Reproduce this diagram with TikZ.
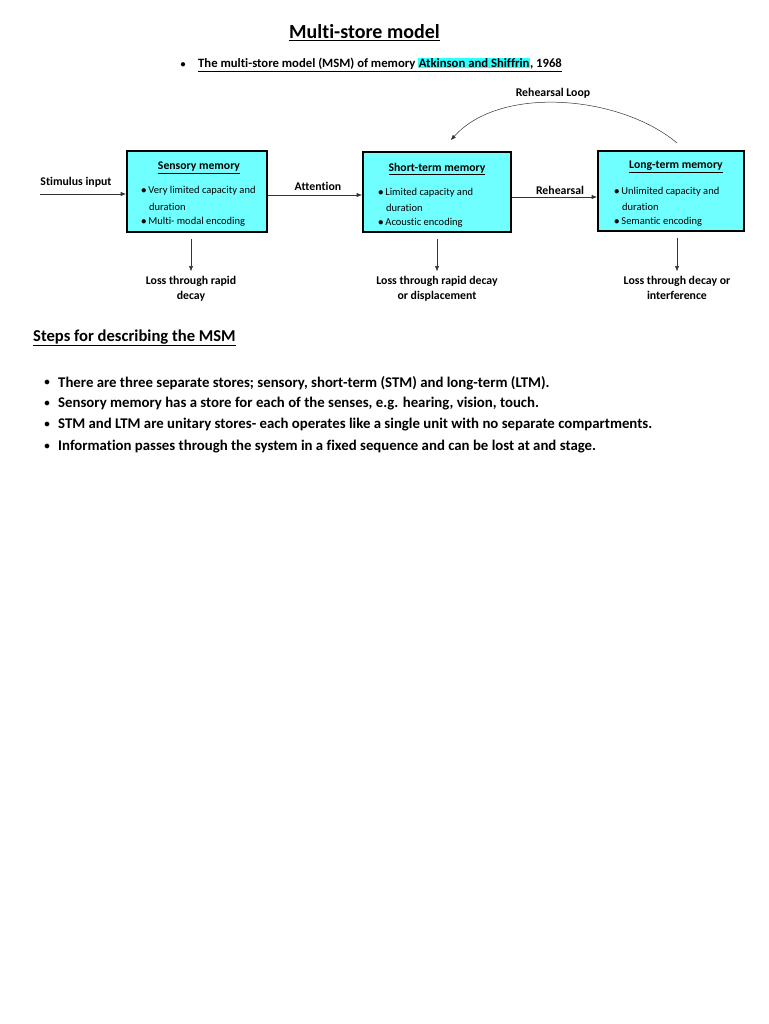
\documentclass[tikz,border=0pt]{standalone}
\usepackage{fontspec}
\setmainfont{Carlito}[Ligatures=NoCommon]
\usetikzlibrary{arrows.meta}
\definecolor{boxfill}{HTML}{70FFFF}
\definecolor{hl}{HTML}{2EFFFF}
\begin{document}
\begin{tikzpicture}[x=1pt,y=-1pt,
  store/.style={draw=black, line width=2.6pt, fill=boxfill, inner sep=0pt},
  arr/.style={-{Triangle[length=5pt,width=3.8pt]}, line width=0.6pt, draw=black!80},
  lbl/.style={font=\fontsize{11.8}{15}\selectfont\bfseries, inner sep=0pt, align=center},
  btxt/.style={font=\fontsize{10.5}{12}\selectfont, inner sep=0pt, anchor=west},
  btitle/.style={font=\fontsize{11.7}{13}\selectfont\bfseries, inner sep=0pt},
  listtxt/.style={font=\fontsize{14.8}{17}\selectfont\bfseries, inner sep=0pt, anchor=west}]
\useasboundingbox[fill=white] (0,0) rectangle (768,1024);

% title
\node[font=\fontsize{20}{22}\selectfont\bfseries, inner sep=0pt] (title) at (364.5,33) {\underline{Multi-store model}};
\node[font=\fontsize{11}{12}\selectfont, inner sep=0pt] (b0) at (183,65) {$\bullet$};
\node[font=\fontsize{12.7}{14}\selectfont\bfseries, inner sep=0pt, anchor=west] (sub) at (198,65)
  {\setlength{\fboxsep}{0.6pt}\underline{The multi-store model (MSM) of memory \colorbox{hl}{Atkinson and Shiffrin}, 1968}};

% stores
\node[store, minimum width=140pt, minimum height=81pt] (sm) at (197,191.5) {};
\node[store, minimum width=148pt, minimum height=80pt] (stm) at (437,192) {};
\node[store, minimum width=146pt, minimum height=80pt] (ltm) at (671,191) {};

\node[btitle] (smt) at (199,168) {\underline{Sensory memory}};
\node[btxt] (sm1) at (141,190.5) {$\bullet$\,Very limited capacity and};
\node[btxt] (sm2) at (149,206.5) {duration};
\node[btxt] (sm3) at (141,221.5) {$\bullet$\,Multi- modal encoding};

\node[btitle] (stmt) at (437,169) {\underline{Short-term memory}};
\node[btxt] (stm1) at (378,192.5) {$\bullet$\,Limited capacity and};
\node[btxt] (stm2) at (386,207.5) {duration};
\node[btxt] (stm3) at (378,222.5) {$\bullet$\,Acoustic encoding};

\node[btitle] (ltmt) at (676,167) {\underline{Long-term memory}};
\node[btxt] (ltm1) at (614,191.5) {$\bullet$\,Unlimited capacity and};
\node[btxt] (ltm2) at (622,206.5) {duration};
\node[btxt] (ltm3) at (614,221.5) {$\bullet$\,Semantic encoding};

% horizontal connectors
\node[lbl] (stim) at (76,182) {Stimulus input};
\coordinate (stimstart) at (40,194);
\draw[arr] (stimstart) -- (stimstart -| sm.west);
\node[lbl] (att) at (318,186) {Attention};
\draw[arr] (sm.east |- 0,195) -- (stm.west |- 0,195);
\node[lbl] (reh) at (560,190) {Rehearsal};
\draw[arr] (stm.east |- 0,197) -- (ltm.west |- 0,197);

% loss
\node[lbl, anchor=north] (l1) at (191,276) {Loss through rapid\\decay};
\node[lbl, anchor=north] (l2) at (437,276) {Loss through rapid decay\\or displacement};
\node[lbl, anchor=north] (l3) at (677,276) {Loss through decay or\\interference};
\draw[arr] ([yshift=-6pt]sm.south -| l1) -- ([yshift=5pt]l1.north);
\draw[arr] ([yshift=-6pt]stm.south -| l2) -- ([yshift=5pt]l2.north);
\draw[arr] ([yshift=-6pt]ltm.south -| l3) -- ([yshift=5pt]l3.north);

% rehearsal loop
\node[lbl] (loop) at (553,93) {Rehearsal Loop};
\coordinate (ls) at (677,143);
\coordinate (le) at (451,140);
\draw[arr, line width=0.5pt] (ls) .. controls (620,95) and (500,85) .. (le);

% steps
\node[font=\fontsize{16.6}{18}\selectfont\bfseries, inner sep=0pt, anchor=west] (steps) at (33,338) {\underline{Steps for describing the MSM}};
\foreach \y/\t/\n in {383/{There are three separate stores; sensory, short-term (STM) and long-term (LTM).}/p1,
  404/{Sensory memory has a store for each of the senses, e.g. hearing, vision, touch.}/p2,
  425/{STM and LTM are unitary stores- each operates like a single unit with no separate compartments.}/p3,
  447/{Information passes through the system in a fixed sequence and can be lost at and stage.}/p4}{
  \node[font=\fontsize{13}{15}\selectfont, inner sep=0pt] (d\n) at (47,\y) {$\bullet$};
  \node[listtxt] (\n) at (58,\y) {\t};
}
\end{tikzpicture}
\end{document}
